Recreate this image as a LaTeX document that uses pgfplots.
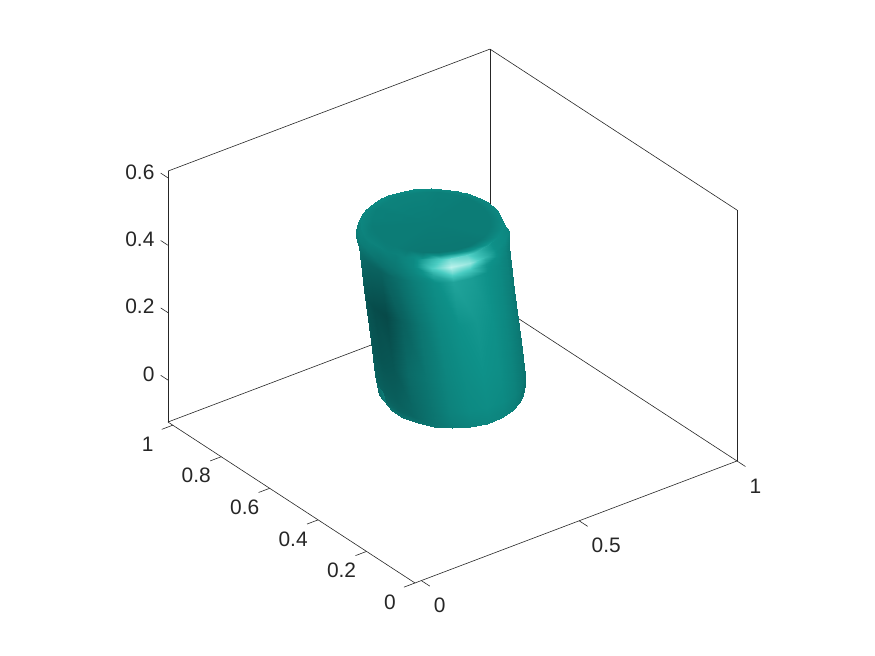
\documentclass[border=0pt]{standalone}
\usepackage{fontspec}
\setmainfont{Liberation Sans}
\usepackage{pgfplots}
\pgfplotsset{compat=1.18}
\definecolor{axgray}{RGB}{38,38,38}
\begin{document}
\begin{tikzpicture}
\useasboundingbox (0,0) rectangle (875bp,656bp);
\begin{axis}[
    at={(421.3bp,117.4bp)},
    anchor=origin,
    x={(315.7bp,119.6bp)},
    y={(-242.2bp,157.8bp)},
    z={(0bp,337bp)},
    xmin=-0.02, xmax=1,
    ymin=0, ymax=1.02,
    zmin=-0.1246, zmax=0.620,
    xtick={0,0.5,1},
    ytick={0,0.2,0.4,0.6,0.8,1},
    ztick={0,0.2,0.4,0.6},
    grid=none,
    clip=false,
    axis line style={axgray,line width=0.6bp},
    tick style={draw=none},
    major tick length=0pt,
    tick label style={font=\fontsize{21}{24}\selectfont,text=axgray},
    xticklabel style={anchor=west,xshift=9bp,yshift=-25bp},
    yticklabel style={anchor=center,xshift=-25bp,yshift=-19bp},
    zticklabel style={anchor=east,xshift=-10bp,yshift=6bp},
    /pgf/number format/assume math mode=true,
    colormap={tealsurf}{rgb255(0cm)=(5,60,60) rgb255(3cm)=(10,100,97) rgb255(6cm)=(14,145,137) rgb255(8cm)=(75,205,195) rgb255(10cm)=(225,255,250)},
    point meta min=0,
    point meta max=1,
]
% tick marks, only on the three outer edges
\addplot3[axgray,line width=0.6bp,no markers,unbounded coords=jump] coordinates {
(0,0,-.1246) (0,-.035,-.1246) (nan,nan,nan)
(.5,0,-.1246) (.5,-.035,-.1246) (nan,nan,nan)
(1,0,-.1246) (1,-.035,-.1246) (nan,nan,nan)
(-.02,0,-.1246) (-.055,0,-.1246) (nan,nan,nan)
(-.02,.2,-.1246) (-.055,.2,-.1246) (nan,nan,nan)
(-.02,.4,-.1246) (-.055,.4,-.1246) (nan,nan,nan)
(-.02,.6,-.1246) (-.055,.6,-.1246) (nan,nan,nan)
(-.02,.8,-.1246) (-.055,.8,-.1246) (nan,nan,nan)
(-.02,1,-.1246) (-.055,1,-.1246) (nan,nan,nan)
(-.02,1.02,0) (-.02,1.05,0) (nan,nan,nan)
(-.02,1.02,.2) (-.02,1.05,.2) (nan,nan,nan)
(-.02,1.02,.4) (-.02,1.05,.4) (nan,nan,nan)
(-.02,1.02,.6) (-.02,1.05,.6)
};
% back of the shoulder, mostly behind the cap
\addplot3[surf,shader=interp,point meta=explicit,mesh/rows=3,mesh/cols=13] coordinates {
(.6022,.4808,.497)[.54] (.6231,.5170,.497)[.54] (.6339,.5574,.497)[.55] (.6339,.5992,.497)[.55] (.6231,.6396,.497)[.55] (.6022,.6758,.497)[.55] (.5726,.7054,.497)[.56] (.5364,.7263,.497)[.56] (.4960,.7371,.497)[.56] (.4542,.7371,.497)[.55] (.4138,.7263,.497)[.54] (.3776,.7054,.497)[.52] (.3480,.6758,.497)[.52]

(.6202,.4670,.495)[.54] (.6406,.5098,.495)[.54] (.6527,.5549,.495)[.55] (.6527,.6017,.495)[.55] (.6406,.6468,.495)[.55] (.6172,.6873,.495)[.55] (.5841,.7204,.495)[.56] (.5436,.7438,.495)[.56] (.4985,.7559,.495)[.56] (.4517,.7559,.495)[.55] (.4066,.7438,.495)[.54] (.3661,.7204,.495)[.52] (.3300,.6896,.495)[.52]

(.6307,.4582,.455)[.52] (.6523,.5032,.455)[.52] (.6650,.5507,.455)[.54] (.6650,.5999,.455)[.54] (.6523,.6474,.455)[.54] (.6277,.6901,.455)[.54] (.5929,.7249,.455)[.54] (.5502,.7495,.455)[.54] (.5027,.7622,.455)[.54] (.4535,.7622,.455)[.54] (.4060,.7495,.455)[.52] (.3633,.7249,.455)[.52] (.3255,.6924,.455)[.50]
};
% side of the surface, front half, top to bottom
\addplot3[surf,shader=interp,point meta=explicit,mesh/rows=10,mesh/cols=13] coordinates {
(.3480,.6758,.497)[.50] (.3271,.6396,.497)[.50] (.3163,.5992,.497)[.50] (.3163,.5574,.497)[.48] (.3271,.5170,.497)[.48] (.3480,.4808,.497)[.55] (.3776,.4512,.497)[.72] (.4138,.4303,.497)[.85] (.4542,.4195,.497)[.82] (.4960,.4195,.497)[.68] (.5364,.4303,.497)[.58] (.5726,.4512,.497)[.56] (.6022,.4808,.497)[.55]

(.3300,.6896,.495)[.50] (.3096,.6468,.495)[.50] (.2975,.6017,.495)[.50] (.2975,.5549,.495)[.48] (.3096,.5098,.495)[.48] (.3330,.4693,.495)[.55] (.3661,.4362,.495)[.72] (.4066,.4128,.495)[.85] (.4517,.4007,.495)[.82] (.4985,.4007,.495)[.68] (.5436,.4128,.495)[.58] (.5841,.4362,.495)[.56] (.6202,.4670,.495)[.55]

(.3240,.6940,.475)[.47] (.2990,.6505,.475)[.47] (.2897,.6014,.475)[.45] (.2897,.5522,.475)[.42] (.3024,.5047,.475)[.45] (.3270,.4620,.475)[.55] (.3618,.4272,.475)[.80] (.4045,.4026,.475)[.95] (.4520,.3899,.475)[.90] (.5012,.3899,.475)[.72] (.5487,.4026,.475)[.58] (.5914,.4272,.475)[.55] (.6292,.4597,.475)[.52]

(.3255,.6924,.455)[.45] (.3039,.6474,.455)[.42] (.2912,.5999,.455)[.38] (.2912,.5507,.455)[.38] (.3039,.5032,.455)[.42] (.3285,.4605,.455)[.52] (.3633,.4257,.455)[.68] (.4060,.4011,.455)[.85] (.4535,.3884,.455)[.78] (.5027,.3884,.455)[.62] (.5502,.4011,.455)[.58] (.5929,.4257,.455)[.52] (.6307,.4582,.455)[.48]

(.3303,.6882,.43)[.40] (.3057,.6455,.43)[.35] (.2930,.5980,.43)[.30] (.2930,.5488,.43)[.28] (.3057,.5013,.43)[.36] (.3303,.4586,.43)[.48] (.3651,.4238,.43)[.58] (.4078,.3992,.43)[.66] (.4553,.3865,.43)[.64] (.5045,.3865,.43)[.60] (.5520,.3992,.43)[.55] (.5947,.4238,.43)[.50] (.6295,.4586,.43)[.45]

(.3400,.6784,.30)[.22] (.3154,.6357,.30)[.16] (.3027,.5882,.30)[.12] (.3027,.5390,.30)[.10] (.3154,.4915,.30)[.27] (.3400,.4488,.30)[.42] (.3748,.4140,.30)[.54] (.4175,.3894,.30)[.60] (.4650,.3767,.30)[.62] (.5142,.3767,.30)[.60] (.5617,.3894,.30)[.54] (.6044,.4140,.30)[.47] (.6392,.4488,.30)[.42]

(.3512,.6671,.15)[.22] (.3266,.6244,.15)[.20] (.3139,.5769,.15)[.18] (.3139,.5277,.15)[.20] (.3266,.4802,.15)[.34] (.3512,.4375,.15)[.42] (.3860,.4027,.15)[.52] (.4287,.3781,.15)[.57] (.4762,.3654,.15)[.60] (.5254,.3654,.15)[.58] (.5729,.3781,.15)[.52] (.6156,.4027,.15)[.46] (.6504,.4375,.15)[.42]

(.3587,.6596,.05)[.32] (.3341,.6169,.05)[.28] (.3214,.5694,.05)[.26] (.3214,.5202,.05)[.26] (.3341,.4727,.05)[.32] (.3587,.4300,.05)[.40] (.3935,.3952,.05)[.50] (.4362,.3706,.05)[.55] (.4837,.3579,.05)[.57] (.5329,.3579,.05)[.55] (.5804,.3706,.05)[.50] (.6231,.3952,.05)[.44] (.6579,.4300,.05)[.40]

(.3625,.6561,.02)[.35] (.3381,.6139,.02)[.35] (.3255,.5669,.02)[.32] (.3255,.5181,.02)[.30] (.3381,.4711,.02)[.32] (.3625,.4289,.02)[.40] (.3969,.3945,.02)[.48] (.4391,.3701,.02)[.52] (.4861,.3575,.02)[.54] (.5349,.3575,.02)[.52] (.5819,.3701,.02)[.48] (.6241,.3945,.02)[.42] (.6585,.4289,.02)[.38]

(.3748,.6462,-.005)[.45] (.3522,.6070,-.005)[.45] (.3405,.5632,-.005)[.42] (.3405,.5180,-.005)[.40] (.3522,.4742,-.005)[.40] (.3748,.4350,-.005)[.42] (.4068,.4030,-.005)[.46] (.4460,.3804,-.005)[.50] (.4898,.3687,-.005)[.52] (.5350,.3687,-.005)[.52] (.5788,.3804,-.005)[.50] (.6180,.4030,-.005)[.45] (.6500,.4350,-.005)[.40]
};
% top cap, rings round the centre
\addplot3[surf,shader=interp,point meta=explicit,mesh/rows=3,mesh/cols=25] coordinates {
(.4747,.5787,.5)[.46] (.4747,.5787,.5)[.46] (.4747,.5787,.5)[.46] (.4747,.5787,.5)[.46] (.4747,.5787,.5)[.46] (.4747,.5787,.5)[.46] (.4747,.5787,.5)[.46] (.4747,.5787,.5)[.46] (.4747,.5787,.5)[.46] (.4747,.5787,.5)[.46] (.4747,.5787,.5)[.46] (.4747,.5787,.5)[.46] (.4747,.5787,.5)[.46] (.4747,.5787,.5)[.46] (.4747,.5787,.5)[.46] (.4747,.5787,.5)[.46] (.4747,.5787,.5)[.46] (.4747,.5787,.5)[.46] (.4747,.5787,.5)[.46] (.4747,.5787,.5)[.46] (.4747,.5787,.5)[.46] (.4747,.5787,.5)[.46] (.4747,.5787,.5)[.46] (.4747,.5787,.5)[.46] (.4747,.5787,.5)[.46]

(.6255,.5787,.5)[.46] (.6204,.6177,.5)[.46] (.6053,.6541,.5)[.48] (.5813,.6853,.5)[.48] (.5501,.7093,.5)[.50] (.5137,.7244,.5)[.50] (.4747,.7295,.5)[.50] (.4357,.7244,.5)[.50] (.3993,.7093,.5)[.48] (.3681,.6853,.5)[.48] (.3441,.6541,.5)[.46] (.3290,.6177,.5)[.46] (.3239,.5787,.5)[.46] (.3290,.5397,.5)[.46] (.3441,.5033,.5)[.44] (.3681,.4721,.5)[.43] (.3993,.4481,.5)[.43] (.4357,.4330,.5)[.43] (.4747,.4279,.5)[.43] (.5137,.4330,.5)[.44] (.5501,.4481,.5)[.46] (.5813,.4721,.5)[.46] (.6053,.5033,.5)[.46] (.6204,.5397,.5)[.46] (.6255,.5787,.5)[.46]

(.6542,.5783,.495)[.54] (.6481,.6247,.495)[.54] (.6302,.6679,.495)[.55] (.6017,.7049,.495)[.55] (.5647,.7334,.495)[.56] (.5215,.7513,.495)[.56] (.4751,.7574,.495)[.56] (.4287,.7513,.495)[.55] (.3855,.7334,.495)[.54] (.3485,.7049,.495)[.53] (.3200,.6679,.495)[.52] (.3021,.6247,.495)[.50] (.2960,.5783,.495)[.50] (.3021,.5319,.495)[.48] (.3200,.4887,.495)[.50] (.3485,.4517,.495)[.62] (.3855,.4232,.495)[.80] (.4287,.4053,.495)[.85] (.4751,.3992,.495)[.74] (.5215,.4053,.495)[.64] (.5647,.4232,.495)[.57] (.6017,.4517,.495)[.55] (.6302,.4887,.495)[.54] (.6481,.5319,.495)[.54] (.6542,.5783,.495)[.54]
};
\end{axis}
\end{tikzpicture}
\end{document}
